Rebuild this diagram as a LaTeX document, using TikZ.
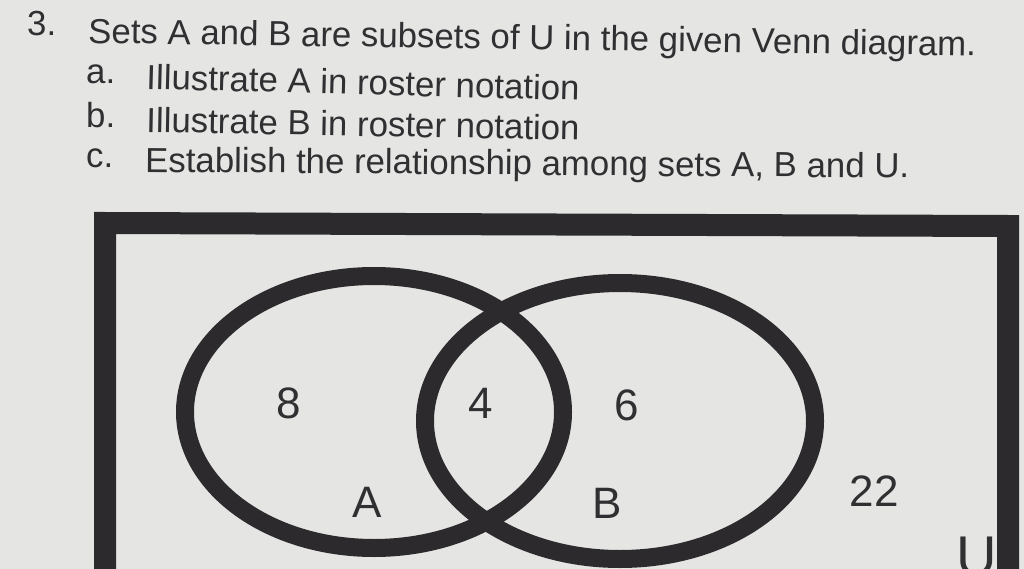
\documentclass[tikz,border=0pt]{standalone}
\usepackage{fontspec}
\setmainfont{Liberation Sans}
\definecolor{paper}{RGB}{229,229,227}
\definecolor{ink}{RGB}{44,42,45}
\definecolor{txt}{RGB}{48,48,50}
\begin{document}
\begin{tikzpicture}[x=1pt,y=-1pt,
  qtext/.style={anchor=base west,inner sep=0pt,text=txt,font=\fontsize{34.8}{40}\selectfont},
  vlabel/.style={inner sep=0pt,text=txt,font=\fontsize{44}{50}\selectfont},
  vset/.style={draw=ink,line width=18pt},
  ubox/.style={draw=ink,line width=22pt,line join=miter}]
\useasboundingbox (0,0) rectangle (1024,569);
\clip (0,0) rectangle (1024,569);
\fill[paper] (0,0) rectangle (1024,569);
% question text
\node[qtext] (num) at (27,36) {3.};
\node[qtext,rotate=-0.84] (q) at (88,43) {Sets A and B are subsets of U in the given Venn diagram.};
\node[qtext] (la) at (86,84) {a.};
\node[qtext,rotate=-1.5] (qa) at (146,89) {Illustrate A in roster notation};
\node[qtext] (lb) at (86,128) {b.};
\node[qtext,rotate=-1.1] (qb) at (146,132) {Illustrate B in roster notation};
\node[qtext] (lc) at (86,168) {c.};
\node[qtext,rotate=-0.45] (qc) at (145,172) {Establish the relationship among sets A, B and U.};
% universal set box
\draw[ubox] (105,640) -- (105,223) -- (1008,226) -- (1008,640);
% sets
\draw[vset] (374,412) ellipse [x radius=189, y radius=136];
\draw[vset] (620,421) ellipse [x radius=195, y radius=138];
% labels
\node[vlabel] (n8) at (289,403) {8};
\node[vlabel] (n4) at (481,403) {4};
\node[vlabel] (n6) at (627,405) {6};
\node[vlabel] (lA) at (367,502) {A};
\node[vlabel] (lB) at (607,503) {B};
\node[vlabel] (n22) at (874,491) {22};
\node[vlabel,anchor=north,font=\fontsize{56}{62}\selectfont] (lU) at (977,537) {U};
\end{tikzpicture}
\end{document}
